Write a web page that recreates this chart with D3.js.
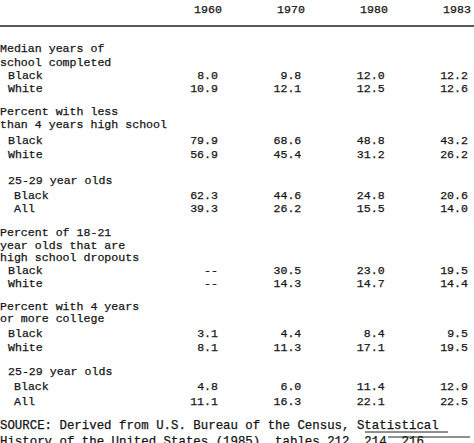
<!DOCTYPE html>
<html><head><meta charset="utf-8">
<script src="https://cdn.jsdelivr.net/npm/d3@7"></script>
<style>body{margin:0;background:#fff}text{font-family:"Liberation Mono","DejaVu Sans Mono",monospace;font-size:11.6px;fill:#151515;stroke:#151515;stroke-width:0.25}</style>
</head><body><svg id="c" width="474" height="443"></svg>
<script>
const years = ["1960","1970","1980","1983"];
const rowLabels = [
 ["Median years of",0,null],["school completed",0,null],
 ["Black",1,["8.0","9.8","12.0","12.2"]],["White",1,["10.9","12.1","12.5","12.6"]],
 ["Percent with less",0,null],["than 4 years high school",0,null],
 ["Black",1,["79.9","68.6","48.8","43.2"]],["White",1,["56.9","45.4","31.2","26.2"]],
 ["25-29 year olds",1,null],
 ["Black",2,["62.3","44.6","24.8","20.6"]],["All",2,["39.3","26.2","15.5","14.0"]],
 ["Percent of 18-21",0,null],["year olds that are",0,null],["high school dropouts",0,null],
 ["Black",1,["--","30.5","23.0","19.5"]],["White",1,["--","14.3","14.7","14.4"]],
 ["Percent with 4 years",0,null],["or more college",0,null],
 ["Black",1,["3.1","4.4","8.4","9.5"]],["White",1,["8.1","11.3","17.1","19.5"]],
 ["25-29 year olds",1,null],
 ["Black",2,["4.8","6.0","11.4","12.9"]],["All",2,["11.1","16.3","22.1","22.5"]]
];
const rowY = [48,62,75,88,111,124,140,154,180,195,208,232,245,257,270,283,306,318,333,347,371,386,401];
const indent = [0,8,14];
const svg = d3.select("#c");
const x = d3.scalePoint().domain(years).range([218,468]);
const xh = d3.scalePoint().domain(years).range([208,457]);
svg.selectAll(".h").data(years).join("text").attr("x",d=>xh(d)).attr("y",13).attr("text-anchor","middle").text(d=>d);
svg.append("line").attr("x1",0).attr("x2",474).attr("y1",26).attr("y2",26).attr("stroke","#222").attr("stroke-width",1.6);
rowLabels.forEach((r,i)=>{
  const y=rowY[i]+4;
  svg.append("text").attr("x",indent[r[1]]).attr("y",y).text(r[0]);
  if(r[2]) r[2].forEach((v,j)=>{
    svg.append("text").attr("x",x(years[j])).attr("y",y).attr("text-anchor","end").text(v);
  });
});
svg.append("text").attr("x",0).attr("y",429).style("font-size","12.4px").text("SOURCE:  Derived from U.S. Bureau of the Census, Statistical");
svg.append("line").attr("x1",365).attr("x2",448).attr("y1",432).attr("y2",432).attr("stroke","#222").attr("stroke-width",1);
svg.append("text").attr("x",0).attr("y",445).style("font-size","12.4px").text("History of the United States (1985), tables 212, 214, 216");
svg.append("line").attr("x1",388).attr("x2",470).attr("y1",437).attr("y2",437).attr("stroke","#222").attr("stroke-width",1);
</script></body></html>
